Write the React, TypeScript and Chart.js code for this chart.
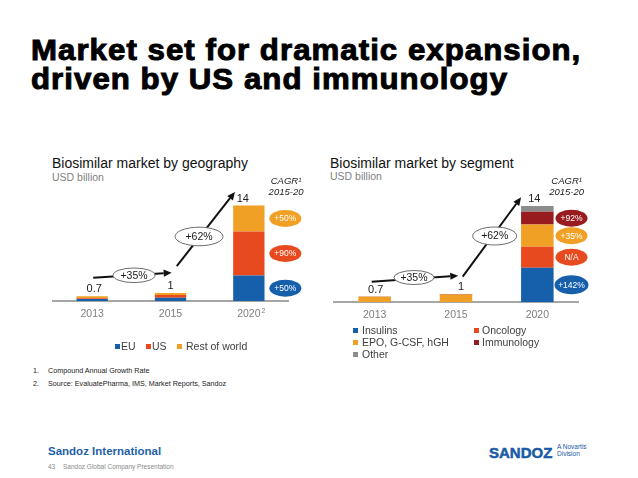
import React, { useEffect, useRef } from "react";
import { Chart, registerables } from "chart.js";

Chart.register(...registerables);

// ---------- data ----------
const years = ["2013", "2015", "2020"];

// Biosimilar market by geography (USD billion)
const geoEU = [0.3, 0.47, 3.75];
const geoUS = [0.1, 0.4, 6.45];
const geoRoW = [0.3, 0.3, 3.8];
const geoTotals = ["0.7", "1", "14"];
const geoCagr = ["+50%", "+90%", "+50%"]; // EU, US, Rest of world

// Biosimilar market by segment (USD billion)
const segInsulins = [0, 0, 5.0];
const segOncology = [0, 0, 3.05];
const segEPO = [0.75, 1.1, 3.25];
const segImmunology = [0.05, 0.08, 1.85];
const segOther = [0, 0, 0.85];
const segTotals = ["0.7", "1", "14"];
const segCagr = ["+142%", "N/A", "+35%", "+92%", ""];

const growthLabels = ["+35%", "+62%"];

// ---------- styles ----------
const BLUE = "#1660ab";
const RED = "#e84a1f";
const ORANGE = "#f0a024";
const DARKRED = "#981b1e";
const GRAY = "#8c8c8c";
const FONT = '"Liberation Sans", Arial, Helvetica, sans-serif';

const decorPlugin = {
  id: "decor",
  afterDatasetsDraw(chart: any, _args: any, o: any) {
    const ctx = chart.ctx;
    const xs = chart.scales.x;
    const ys = chart.scales.y;
    const x0 = xs.getPixelForValue(0);
    const sp = xs.getPixelForValue(1) - x0;
    const X = (p: number) => x0 + p * sp;
    const Y = (v: number) => ys.getPixelForValue(v);
    ctx.save();

    // arrows
    for (const a of o.arrows) {
      const x1 = X(a.from[0]), y1 = Y(a.from[1]);
      const x2 = X(a.to[0]), y2 = Y(a.to[1]);
      const ang = Math.atan2(y2 - y1, x2 - x1);
      const hl = 8, hw = 3.6;
      const bx = x2 - hl * Math.cos(ang), by = y2 - hl * Math.sin(ang);
      ctx.strokeStyle = "#111";
      ctx.fillStyle = "#111";
      ctx.lineWidth = 2;
      ctx.beginPath();
      ctx.moveTo(x1, y1);
      ctx.lineTo(bx, by);
      ctx.stroke();
      ctx.beginPath();
      ctx.moveTo(x2, y2);
      ctx.lineTo(bx + hw * Math.sin(ang), by - hw * Math.cos(ang));
      ctx.lineTo(bx - hw * Math.sin(ang), by + hw * Math.cos(ang));
      ctx.closePath();
      ctx.fill();
    }

    // growth ovals
    ctx.textAlign = "center";
    ctx.textBaseline = "middle";
    for (const e of o.ovals) {
      const cx = X(e.at[0]), cy = Y(e.at[1]);
      ctx.beginPath();
      ctx.ellipse(cx, cy, e.rx, e.ry, 0, 0, Math.PI * 2);
      ctx.fillStyle = "#fff";
      ctx.fill();
      ctx.lineWidth = 1;
      ctx.strokeStyle = "#6b6b6b";
      ctx.stroke();
      ctx.fillStyle = "#1a1a1a";
      ctx.font = `10.5px ${FONT}`;
      ctx.fillText(e.text, cx, cy + 0.5);
    }

    // totals above bars
    const n = chart.data.labels.length;
    ctx.font = `11px ${FONT}`;
    ctx.fillStyle = "#222";
    for (let i = 0; i < n; i++) {
      let top = Infinity;
      let xc = xs.getPixelForValue(i);
      chart.data.datasets.forEach((ds: any, di: number) => {
        const el = chart.getDatasetMeta(di).data[i];
        if (el && ds.data[i] > 0) {
          top = Math.min(top, el.y);
          xc = el.x;
        }
      });
      ctx.fillText(o.totals[i], xc + (o.totalDx ? o.totalDx[i] : 0), top - 7);
    }

    // CAGR bubbles next to last bar
    const last = n - 1;
    chart.data.datasets.forEach((ds: any, di: number) => {
      const t = o.cagr[di];
      if (!t) return;
      const el = chart.getDatasetMeta(di).data[last];
      const cy = (el.y + el.base) / 2;
      const cx = el.x + o.bubbleDx * sp;
      const big = t.length > 4;
      ctx.beginPath();
      ctx.ellipse(cx, cy, big ? 17 : 16, big ? 9.5 : 8.5, 0, 0, Math.PI * 2);
      ctx.fillStyle = ds.backgroundColor;
      ctx.fill();
      ctx.fillStyle = "#fff";
      ctx.font = `8.5px ${FONT}`;
      ctx.fillText(t, cx, cy + 0.5);
    });

    // CAGR header
    ctx.fillStyle = "#222";
    ctx.font = `italic 9.5px ${FONT}`;
    ctx.fillText("CAGR\u00B9", X(o.header[0]), Y(o.header[1]));
    ctx.fillText("2015-20", X(o.header[0]), Y(o.header[2]));

    // superscript on a tick label
    if (o.sup) {
      const lx = xs.getPixelForValue(o.sup.index);
      ctx.font = `10.5px ${FONT}`;
      const w = ctx.measureText(chart.data.labels[o.sup.index]).width;
      ctx.font = `7px ${FONT}`;
      ctx.fillStyle = "#7f7f7f";
      ctx.textAlign = "left";
      ctx.fillText(o.sup.text, lx + w / 2 + 1, chart.chartArea.bottom + 10.5);
    }
    ctx.restore();
  },
};

function makeConfig(datasets: any[], padding: any, decor: any) {
  return {
    type: "bar",
    data: { labels: years, datasets },
    options: {
      responsive: false,
      animation: false,
      events: [],
      layout: { padding },
      datasets: { bar: { categoryPercentage: 1, barPercentage: 0.4, borderWidth: 0 } },
      plugins: {
        legend: { display: false },
        tooltip: { enabled: false },
        decor,
      },
      scales: {
        x: {
          stacked: true,
          grid: { display: false, drawTicks: false },
          border: { display: true, color: "#a6a6a6", width: 2 },
          ticks: { color: "#7f7f7f", font: { family: FONT, size: 10.5 }, padding: 7 },
          afterFit: (s: any) => {
            s.height = 20;
          },
        },
        y: { stacked: true, display: false, min: 0, max: 20 },
      },
    },
    plugins: [decorPlugin],
  };
}

function ChartCanvas({ config, left, top, width, height }: any) {
  const ref = useRef<HTMLCanvasElement>(null);
  useEffect(() => {
    if (!ref.current) return;
    const c = new Chart(ref.current, config);
    return () => c.destroy();
  }, []);
  return (
    <canvas
      ref={ref}
      width={width}
      height={height}
      style={{ position: "absolute", left, top, width, height }}
    />
  );
}

function T({ x, y, size, children, style }: any) {
  return (
    <div
      style={{
        position: "absolute",
        left: x,
        top: y - size * 0.49,
        fontSize: size,
        lineHeight: `${size}px`,
        fontFamily: FONT,
        whiteSpace: "nowrap",
        ...style,
      }}
    >
      {children}
    </div>
  );
}

function Sq({ x, y, color }: any) {
  return (
    <div
      style={{ position: "absolute", left: x, top: y - 2.5, width: 5, height: 5, background: color }}
    />
  );
}

export default function App() {
  const geoConfig = makeConfig(
    [
      { label: "EU", data: geoEU, backgroundColor: BLUE },
      { label: "US", data: geoUS, backgroundColor: RED },
      { label: "Rest of world", data: geoRoW, backgroundColor: ORANGE },
    ],
    { left: 53, right: 32, top: 24.6, bottom: 9 },
    {
      totals: geoTotals,
      totalDx: [2, 0, -6],
      cagr: geoCagr,
      bubbleDx: 0.466,
      header: [2.475, 17.6, 16.0],
      sup: { index: 2, text: "2" },
      arrows: [
        { from: [0.014, 3.42], to: [1.015, 4.15] },
        { from: [1.08, 5.13], to: [1.823, 16.0] },
      ],
      ovals: [
        { at: [0.534, 3.77], rx: 21, ry: 7.3, text: growthLabels[0] },
        { at: [1.364, 9.46], rx: 24, ry: 9.3, text: growthLabels[1] },
      ],
    }
  );

  const segConfig = makeConfig(
    [
      { label: "Insulins", data: segInsulins, backgroundColor: BLUE },
      { label: "Oncology", data: segOncology, backgroundColor: RED },
      { label: "EPO, G-CSF, hGH", data: segEPO, backgroundColor: ORANGE },
      { label: "Immunology", data: segImmunology, backgroundColor: DARKRED },
      { label: "Other", data: segOther, backgroundColor: GRAY },
    ],
    { left: 14, right: 60, top: 24.9, bottom: 8 },
    {
      totals: segTotals,
      totalDx: [1, 5, -3],
      cagr: segCagr,
      bubbleDx: 0.42,
      header: [2.36, 17.54, 16.0],
      arrows: [
        { from: [-0.037, 2.96], to: [1.028, 3.84] },
        { from: [1.082, 3.69], to: [1.8, 15.27] },
      ],
      ovals: [
        { at: [0.483, 3.57], rx: 20, ry: 7, text: growthLabels[0] },
        { at: [1.476, 9.63], rx: 22, ry: 9, text: growthLabels[1] },
      ],
    }
  );

  const legendColor = "#404040";
  const foot = "#222";

  return (
    <div
      style={{
        position: "absolute",
        left: 0,
        top: 0,
        width: 638,
        height: 478,
        background: "#fff",
        overflow: "hidden",
        fontFamily: FONT,
      }}
    >
      <div
        style={{
          position: "absolute",
          left: 31,
          top: 35,
          fontSize: 30,
          lineHeight: "29px",
          fontWeight: "bold",
          color: "#000",
          whiteSpace: "nowrap",
          letterSpacing: 1.0,
          WebkitTextStroke: "1px #000",
          transform: "scaleX(1.04)",
          transformOrigin: "left top",
          fontFamily: FONT,
        }}
      >
        Market set for dramatic expansion,
        <br />
        driven by US and immunology
      </div>

      <T x={52} y={163} size={14} style={{ color: "#111" }}>
        Biosimilar market by geography
      </T>
      <T x={52} y={176.7} size={10.5} style={{ color: "#7f7f7f" }}>
        USD billion
      </T>
      <T x={330} y={163} size={14} style={{ color: "#111" }}>
        Biosimilar market by segment
      </T>
      <T x={330} y={176} size={10.5} style={{ color: "#7f7f7f" }}>
        USD billion
      </T>

      <ChartCanvas config={geoConfig} left={0} top={140} width={320} height={190} />
      <ChartCanvas config={segConfig} left={320} top={140} width={318} height={190} />

      {/* left legend */}
      <Sq x={115} y={346} color={BLUE} />
      <T x={121} y={346} size={10.5} style={{ color: legendColor }}>EU</T>
      <Sq x={146} y={346} color={RED} />
      <T x={152} y={346} size={10.5} style={{ color: legendColor }}>US</T>
      <Sq x={177} y={346} color={ORANGE} />
      <T x={186} y={346} size={10.5} style={{ color: legendColor }}>Rest of world</T>

      {/* right legend */}
      <Sq x={353} y={330} color={BLUE} />
      <T x={362} y={330} size={10.5} style={{ color: legendColor }}>Insulins</T>
      <Sq x={474} y={330} color={RED} />
      <T x={482} y={330} size={10.5} style={{ color: legendColor }}>Oncology</T>
      <Sq x={353} y={342.3} color={ORANGE} />
      <T x={362} y={342.3} size={10.5} style={{ color: legendColor }}>EPO, G-CSF, hGH</T>
      <Sq x={474} y={342.3} color={DARKRED} />
      <T x={482} y={342.3} size={10.5} style={{ color: legendColor }}>Immunology</T>
      <Sq x={353} y={354} color={GRAY} />
      <T x={362} y={354} size={10.5} style={{ color: legendColor }}>Other</T>

      {/* footnotes */}
      <T x={33} y={371} size={7.2} style={{ color: foot }}>1.</T>
      <T x={48} y={371} size={7.2} style={{ color: foot }}>Compound Annual Growth Rate</T>
      <T x={33} y={384} size={7.2} style={{ color: foot }}>2.</T>
      <T x={48} y={384} size={7.2} style={{ color: foot }}>Source: EvaluatePharma, IMS, Market Reports, Sandoz</T>

      {/* footer */}
      <T x={48} y={452} size={11.5} style={{ color: "#1f5fa8", fontWeight: "bold" }}>
        Sandoz International
      </T>
      <T x={48} y={467} size={6.5} style={{ color: "#8a8a8a" }}>43</T>
      <T x={63} y={467} size={6.5} style={{ color: "#8a8a8a" }}>Sandoz Global Company Presentation</T>

      <T
        x={489}
        y={452}
        size={15}
        style={{ color: "#1a5aa6", fontWeight: "bold", WebkitTextStroke: "0.5px #1a5aa6" }}
      >
        SANDOZ
      </T>
      <T x={557} y={447.5} size={6.5} style={{ color: "#1a5aa6" }}>A Novartis</T>
      <T x={557} y={454.5} size={6.5} style={{ color: "#1a5aa6" }}>Division</T>
    </div>
  );
}
